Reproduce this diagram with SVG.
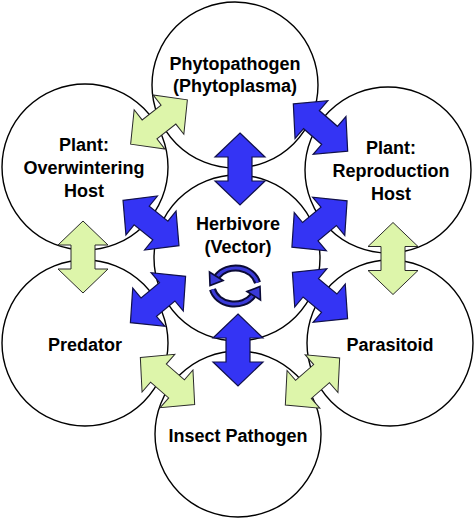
<svg xmlns="http://www.w3.org/2000/svg" xmlns:xlink="http://www.w3.org/1999/xlink" width="474" height="519" viewBox="0 0 474 519">
<defs>
<style>
.node{fill:#ffffff;stroke:#000000;stroke-width:1.4}
.lbl{font-family:"Liberation Sans",Arial,sans-serif;font-weight:bold;font-size:18px;fill:#000000;text-anchor:middle}
.blue{fill:#3434f4;stroke:#10104a;stroke-width:1.2;stroke-linejoin:miter}
.green{fill:#ddf5aa;stroke:#2a2a2a;stroke-width:1;stroke-linejoin:miter}
.cyc-out{fill:none;stroke:#0b0b36;stroke-width:7}
.cyc-in{fill:none;stroke:#3a3ad8;stroke-width:3}
.cyc-head{fill:#3a3ad8;stroke:#0b0b36;stroke-width:1.6;stroke-linejoin:miter}
</style>
<path id="arr" d="M -36 0 L -12 -25 L -12 -12 L 12 -12 L 12 -25 L 36 0 L 12 25 L 12 12 L -12 12 L -12 25 Z"/>
<g id="halfcycle">
<path class="cyc-out" d="M 257.5 282.7 A 22.5 19.5 0 0 0 217 276.5"/>
<path class="cyc-in" d="M 257.5 282.7 A 22.5 19.5 0 0 0 217 276.5"/>
<polygon class="cyc-head" points="223,280.5 209.5,272 210,285.5"/>
</g>
</defs>
<rect x="0" y="0" width="474" height="519" fill="#ffffff"/>

<g id="node-phytopathogen">
<circle class="node" cx="235" cy="85" r="83"/>
<text class="lbl" x="235" y="70">Phytopathogen</text>
<text class="lbl" x="235" y="92">(Phytoplasma)</text>
</g>
<g id="node-overwintering">
<circle class="node" cx="85" cy="167" r="83"/>
<text class="lbl" x="84" y="151">Plant:</text>
<text class="lbl" x="84" y="174">Overwintering</text>
<text class="lbl" x="84" y="197">Host</text>
</g>
<g id="node-reproduction">
<circle class="node" cx="388" cy="170" r="83"/>
<text class="lbl" x="391" y="154">Plant:</text>
<text class="lbl" x="391" y="177">Reproduction</text>
<text class="lbl" x="391" y="200">Host</text>
</g>
<g id="node-herbivore">
<circle class="node" cx="237" cy="258" r="83"/>
<text class="lbl" x="238" y="230">Herbivore</text>
<text class="lbl" x="238" y="253">(Vector)</text>
<g id="cycle-icon">
<use xlink:href="#halfcycle"/>
<use xlink:href="#halfcycle" transform="rotate(180 235 286)"/>
</g>
</g>
<g id="node-predator">
<circle class="node" cx="85" cy="343" r="83"/>
<text class="lbl" x="85" y="351">Predator</text>
</g>
<g id="node-parasitoid">
<circle class="node" cx="390" cy="343" r="83"/>
<text class="lbl" x="390" y="351">Parasitoid</text>
</g>
<g id="node-insect-pathogen">
<circle class="node" cx="238" cy="434" r="83"/>
<text class="lbl" x="238" y="442">Insect Pathogen</text>
</g>

<g id="connectors">
<use xlink:href="#arr" class="blue" transform="translate(240 169) rotate(90)"/>
<use xlink:href="#arr" class="blue" transform="translate(238 350) rotate(90)"/>
<use xlink:href="#arr" class="blue" transform="translate(151 223) rotate(39)"/>
<use xlink:href="#arr" class="blue" transform="translate(158 299.5) rotate(-40)"/>
<use xlink:href="#arr" class="blue" transform="translate(319.5 224) rotate(-40)"/>
<use xlink:href="#arr" class="blue" transform="translate(320 295.5) rotate(40)"/>
<use xlink:href="#arr" class="blue" transform="translate(320.5 127.5) rotate(41)"/>
<use xlink:href="#arr" class="green" transform="translate(159 122) rotate(-38)"/>
<use xlink:href="#arr" class="green" transform="translate(83 257) rotate(90)"/>
<use xlink:href="#arr" class="green" transform="translate(393 258.5) rotate(90)"/>
<use xlink:href="#arr" class="green" transform="translate(167.5 381) rotate(41)"/>
<use xlink:href="#arr" class="green" transform="translate(312.5 381.5) rotate(-41)"/>
</g>
</svg>
